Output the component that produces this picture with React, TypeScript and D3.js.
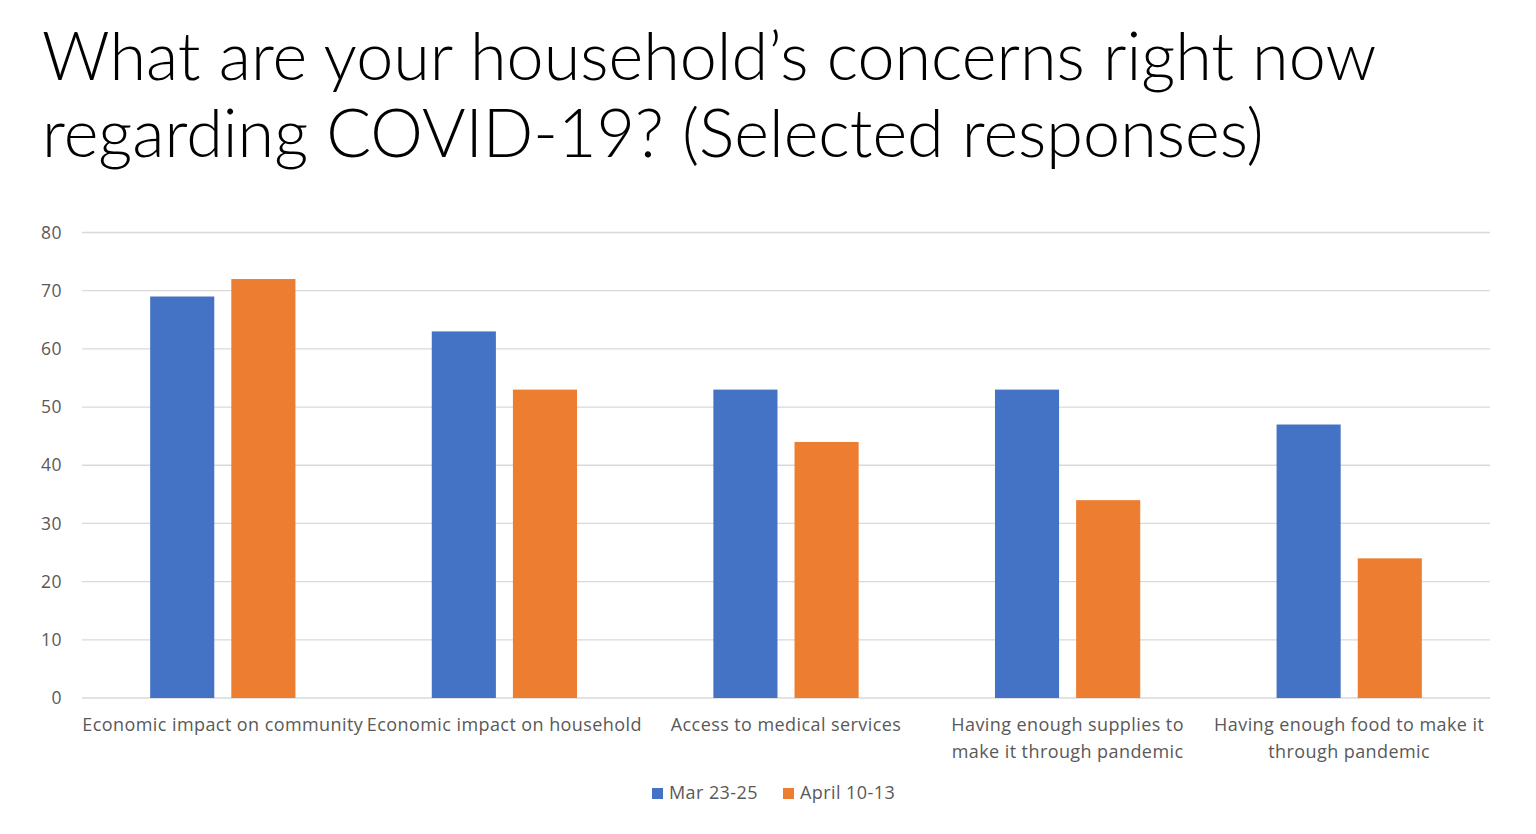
import { useEffect, useRef } from 'react';
import * as d3 from 'd3';

const categories = [
  ['Economic impact on community'],
  ['Economic impact on household'],
  ['Access to medical services'],
  ['Having enough supplies to', 'make it through pandemic'],
  ['Having enough food to make it', 'through pandemic'],
];
const seriesNames = ['Mar 23-25', 'April 10-13'];
const mar = [69, 63, 53, 53, 47];
const april = [72, 53, 44, 34, 24];
const yTicks = [0, 10, 20, 30, 40, 50, 60, 70, 80];
const colors = ['#4472C4', '#ED7D31'];

export default function App() {
  const ref = useRef<SVGSVGElement>(null);
  const width = 1536;
  const height = 834;

  useEffect(() => {
    if (!ref.current) return;
    const svg = d3.select(ref.current);
    svg.selectAll('*').remove();

    svg.append('rect').attr('width', width).attr('height', height).attr('fill', '#fff');

    const title = svg
      .append('text')
      .attr('font-family', 'Lato, "Open Sans", sans-serif')
      .attr('font-weight', 300)
      .attr('font-size', 66.5)
      .attr('fill', '#000');
    title.append('tspan').attr('x', 42).attr('y', 80).text('What are your household\u2019s concerns right now');
    title.append('tspan').attr('x', 42).attr('y', 157).text('regarding COVID-19? (Selected responses)');

    const left = 82;
    const right = 1490;
    const y = d3.scaleLinear().domain([0, 80]).range([698, 232.5]);
    const x0 = d3
      .scaleBand<number>()
      .domain(categories.map((_, i) => i))
      .range([left, right]);
    const x1 = d3
      .scaleBand<number>()
      .domain([0, 1])
      .range([0, x0.bandwidth()])
      .paddingInner(0.21)
      .paddingOuter(0.84);

    const grid = svg.append('g');
    yTicks.forEach((t) => {
      grid
        .append('line')
        .attr('x1', left)
        .attr('x2', right)
        .attr('y1', y(t))
        .attr('y2', y(t))
        .attr('stroke', '#D9D9D9')
        .attr('stroke-width', 1.3);
      grid
        .append('text')
        .attr('x', 62)
        .attr('y', y(t))
        .attr('dy', '0.35em')
        .attr('text-anchor', 'end')
        .attr('font-family', '"Open Sans", sans-serif')
        .attr('font-size', 17.5)
        .attr('letter-spacing', 0.5)
        .attr('fill', '#595959')
        .text(t);
    });

    const values = [mar, april];
    const bars = svg.append('g');
    values.forEach((vals, s) => {
      vals.forEach((v, i) => {
        bars
          .append('rect')
          .attr('x', (x0(i) ?? 0) + (x1(s) ?? 0))
          .attr('y', y(v))
          .attr('width', x1.bandwidth())
          .attr('height', y(0) - y(v))
          .attr('fill', colors[s]);
      });
    });

    const labels = svg.append('g');
    categories.forEach((lines, i) => {
      const cx = (x0(i) ?? 0) + x0.bandwidth() / 2;
      const t = labels
        .append('text')
        .attr('text-anchor', 'middle')
        .attr('font-family', '"Open Sans", sans-serif')
        .attr('font-size', 18)
        .attr('letter-spacing', 0.42)
        .attr('fill', '#595959');
      lines.forEach((ln, k) => {
        t.append('tspan')
          .attr('x', cx)
          .attr('y', 731 + k * 27)
          .text(ln);
      });
    });

    const legend = svg.append('g');
    const legendX = [652, 783];
    seriesNames.forEach((name, s) => {
      legend
        .append('rect')
        .attr('x', legendX[s])
        .attr('y', 788)
        .attr('width', 11)
        .attr('height', 11)
        .attr('fill', colors[s]);
      legend
        .append('text')
        .attr('x', legendX[s] + 17)
        .attr('y', 799)
        .attr('font-family', '"Open Sans", sans-serif')
        .attr('font-size', 18)
        .attr('letter-spacing', 0.42)
        .attr('fill', '#595959')
        .text(name);
    });
  }, []);

  return <svg ref={ref} width={width} height={height} style={{ display: 'block', margin: -8 }} />;
}
